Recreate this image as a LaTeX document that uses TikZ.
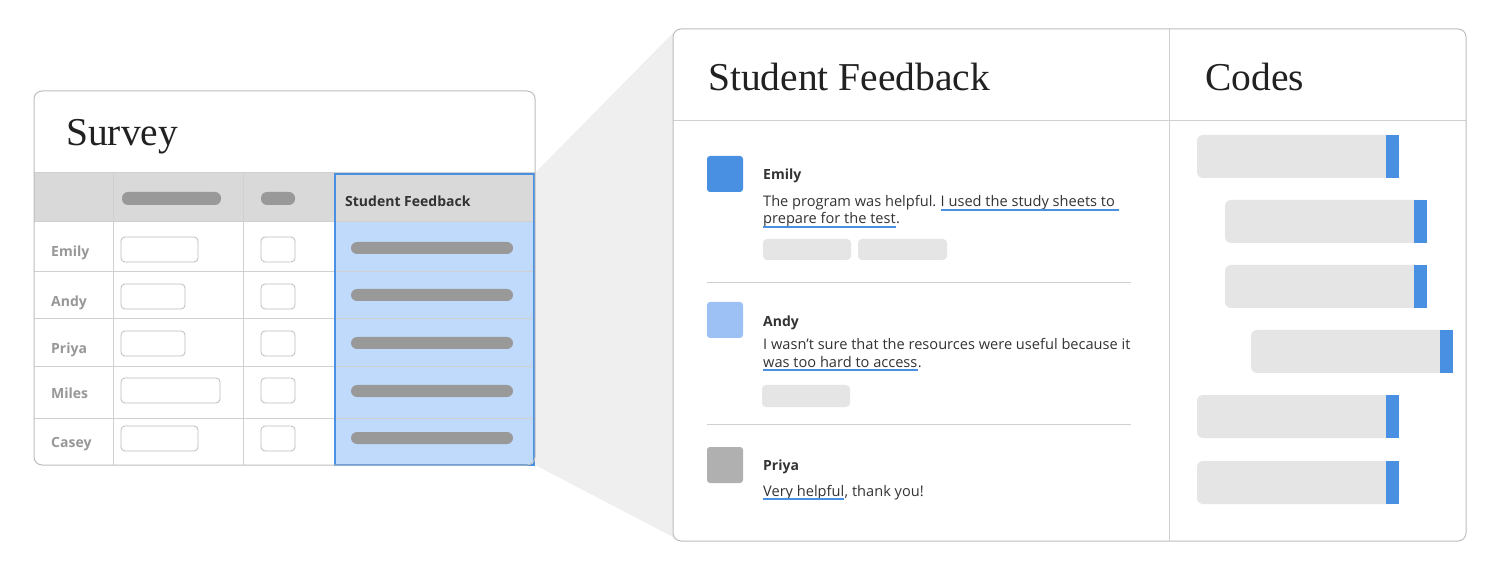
\documentclass[tikz,border=0pt]{standalone}
\usepackage{fontspec}
\setmainfont{Open Sans}
\newfontfamily\headfont{Liberation Serif}
\definecolor{codeblue}{HTML}{4A90E2}
\definecolor{paleblue}{HTML}{C0DAFC}
\definecolor{lightblue}{HTML}{9DC1F5}
\definecolor{rulegray}{HTML}{D0D0D0}
\definecolor{pillgray}{HTML}{999999}
\definecolor{chipgray}{HTML}{E5E5E5}
\definecolor{headgray}{HTML}{D9D9D9}
\definecolor{zoomgray}{HTML}{EFEFEF}
\definecolor{textdark}{HTML}{333333}
\definecolor{labelgray}{HTML}{8C8C8C}
\definecolor{framegray}{HTML}{BDBDBD}

\tikzset{
  panel/.style={draw=framegray, line width=1pt, rounded corners=8pt},
  gridline/.style={draw=rulegray, line width=1pt},
  pill/.style={fill=pillgray, rounded corners=6pt},
  inbox/.style={draw=framegray, fill=white, rounded corners=4pt, line width=0.8pt},
  chip/.style={fill=chipgray, rounded corners=4pt},
  hiline/.style={draw=codeblue, line width=1.5pt},
  headline/.style={anchor=base west, inner sep=0pt, font=\headfont\fontsize{39.5}{45}\selectfont, text=black!87},
  rowlabel/.style={anchor=base west, inner sep=0pt, font=\bfseries\fontsize{14}{17}\selectfont, text=labelgray!90},
  whoname/.style={anchor=base west, inner sep=0pt, font=\bfseries\fontsize{14}{17}\selectfont, text=textdark},
  bodytext/.style={anchor=base west, inner sep=0pt, font=\fontsize{14.6}{17}\selectfont, text=textdark},
}

\begin{document}
\begin{tikzpicture}[x=1pt, y=-1pt]
\useasboundingbox (0,0) rectangle (1500,569);
\fill[zoomgray] (535,173) -- (673,33) -- (673,537) -- (535,465) -- cycle;

\fill[white, rounded corners=8pt] (34,91) rectangle (535,465);
\fill[headgray] (34,173) rectangle (535,222);
\fill[paleblue] (335,222) rectangle (535,465);
\foreach \y in {173,222,272,319,367,418}
  \draw[gridline] (34,\y) -- (535,\y);
\foreach \x in {113,243,335}
  \draw[gridline] (\x,173) -- (\x,465);
\draw[codeblue, line width=2pt] (335,174) rectangle (534,465);
\draw[panel] (34,91) rectangle (535,465);
\node[headline] (survey) at (66,146) {Survey};
\fill[pill] (122,192) rectangle (221,205);
\fill[pill] (261,192) rectangle (295,205);
\node[whoname] (colhead) at (345,207) {Student Feedback};
\foreach \n/\b/\t/\w [count=\i] in {Emily/257/237/77, Andy/307/284/64, Priya/354/331/64, Miles/399/378/99, Casey/447/426/77} {
  \node[rowlabel] (row\i) at (51,\b) {\n};
  \draw[inbox] (121,\t) rectangle ++(\w,25);
  \draw[inbox] (261,\t) rectangle ++(34,25);
}
\foreach \y in {242,289,337,385,432}
  \fill[pill] (351,\y) rectangle ++(162,12);

\fill[white, rounded corners=8pt] (673,29) rectangle (1466,541);
\draw[gridline] (673,121) -- (1466,121);
\draw[gridline] (1169,29) -- (1169,541);
\draw[panel] (673,29) rectangle (1466,541);
\node[headline] (feedback) at (708,91) {Student Feedback};
\node[headline] (codes) at (1205,91) {Codes};

\fill[codeblue, rounded corners=3pt] (707,156) rectangle (743,192);
\node[whoname] (emily) at (763,180) {Emily};
\node[bodytext] (emily1) at (763,207) {The program was helpful.};
\node[bodytext, xshift=4pt] (emily1u) at (emily1.base east) {I used the study sheets to};
\node[bodytext] (emily2u) at (763,224) {prepare for the test};
\node[bodytext] (emily2) at (emily2u.base east) {.};
\draw[hiline] ([yshift=-3pt]emily1u.base west) -- ([xshift=4pt, yshift=-3pt]emily1u.base east);
\draw[hiline] ([yshift=-3pt]emily2u.base west) -- ([yshift=-3pt]emily2u.base east);
\fill[chip] (763,239) rectangle (851,260);
\fill[chip] (858,239) rectangle (947,260);
\draw[gridline] (707,283) -- (1131,283);

\fill[lightblue, rounded corners=3pt] (707,302) rectangle (743,338);
\node[whoname] (andy) at (763,327) {Andy};
\node[bodytext] (andy1) at (763,350) {I wasn’t sure that the resources were useful because it};
\node[bodytext] (andy2u) at (763,367) {was too hard to access};
\node[bodytext] (andy2) at (andy2u.base east) {.};
\draw[hiline] ([yshift=-3pt]andy2u.base west) -- ([yshift=-3pt]andy2u.base east);
\fill[chip] (762,385) rectangle (850,407);
\draw[gridline] (707,424) -- (1131,424);

\fill[black!31, rounded corners=3pt] (707,447) rectangle (743,483);
\node[whoname] (priya) at (763,470) {Priya};
\node[bodytext] (priya1u) at (763,496) {Very helpful};
\node[bodytext] (priya1) at (priya1u.base east) {, thank you!};
\draw[hiline] ([yshift=-3pt]priya1u.base west) -- ([yshift=-3pt]priya1u.base east);

\foreach \x/\y in {1197/135, 1225/200, 1225/265, 1251/330, 1197/395, 1197/461} {
  \fill[chipgray, rounded corners=6pt] (\x,\y) rectangle ++(202,43);
  \fill[codeblue] (\x+189,\y) rectangle ++(13,43);
}
\end{tikzpicture}
\end{document}
